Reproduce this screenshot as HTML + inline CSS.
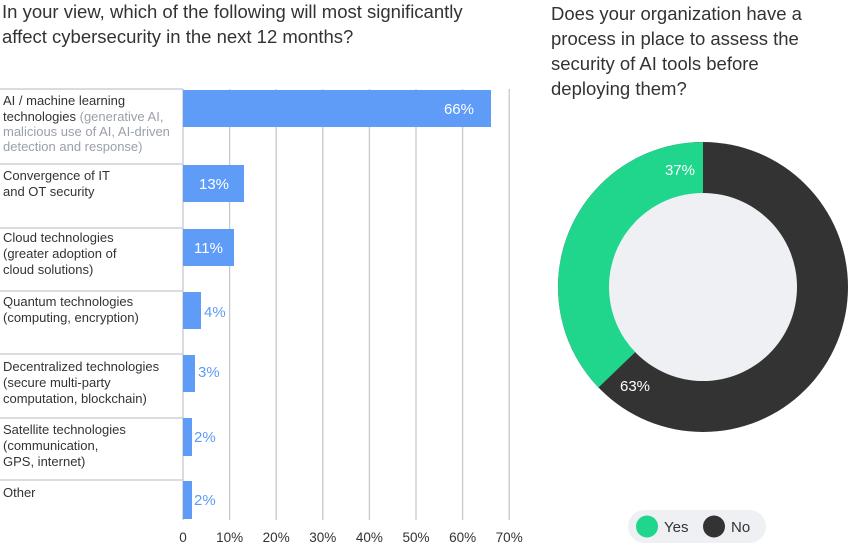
<!DOCTYPE html>
<html><head><meta charset="utf-8"><style>
body{margin:0;background:#fff;width:850px;height:548px;overflow:hidden;font-family:"Liberation Sans",sans-serif;color:#333}
</style></head><body>
<svg width="850" height="548" xmlns="http://www.w3.org/2000/svg" font-family="Liberation Sans, sans-serif">
<g font-size="18.5" fill="#333">
<text x="2" y="18">In your view, which of the following will most significantly</text>
<text x="2" y="43">affect cybersecurity in the next 12 months?</text>
<text x="551" y="20">Does your organization have a</text>
<text x="551" y="45">process in place to assess the</text>
<text x="551" y="70">security of AI tools before</text>
<text x="551" y="95">deploying them?</text>
</g>
<g stroke="#c4c8d0" stroke-width="1.3">
<line x1="183" y1="89" x2="183" y2="520"/>
<line x1="229.6" y1="89" x2="229.6" y2="520"/>
<line x1="276.2" y1="89" x2="276.2" y2="520"/>
<line x1="322.8" y1="89" x2="322.8" y2="520"/>
<line x1="369.4" y1="89" x2="369.4" y2="520"/>
<line x1="416" y1="89" x2="416" y2="520"/>
<line x1="462.6" y1="89" x2="462.6" y2="520"/>
<line x1="509.2" y1="89" x2="509.2" y2="520"/>
<line x1="0" y1="89" x2="183" y2="89"/>
<line x1="0" y1="164" x2="183" y2="164"/>
<line x1="0" y1="228" x2="183" y2="228"/>
<line x1="0" y1="291" x2="183" y2="291"/>
<line x1="0" y1="354" x2="183" y2="354"/>
<line x1="0" y1="418" x2="183" y2="418"/>
<line x1="0" y1="480" x2="183" y2="480"/>
</g>
<g fill="#5e9cf8">
<rect x="183" y="90" width="308" height="37"/>
<rect x="183" y="165" width="61" height="37"/>
<rect x="183" y="229" width="51" height="37"/>
<rect x="183" y="292" width="18" height="37"/>
<rect x="183" y="355" width="12" height="37"/>
<rect x="183" y="418" width="9" height="38"/>
<rect x="183" y="481" width="9" height="38"/>
</g>
<g font-size="15" fill="#fff">
<text x="474" y="114" text-anchor="end">66%</text>
<text x="199" y="189">13%</text>
<text x="194" y="253">11%</text>
</g>
<g font-size="15" fill="#5e9cf8">
<text x="204" y="317">4%</text>
<text x="198" y="377">3%</text>
<text x="194" y="442">2%</text>
<text x="194" y="505">2%</text>
</g>
<g font-size="13" fill="#333">
<text x="3" y="105">AI / machine learning</text>
<text x="3" y="121">technologies <tspan fill="#9aa0aa">(generative AI,</tspan></text>
<text x="3" y="136" fill="#9aa0aa">malicious use of AI, AI-driven</text>
<text x="3" y="151" fill="#9aa0aa">detection and response)</text>
<text x="3" y="180">Convergence of IT</text>
<text x="3" y="196">and OT security</text>
<text x="3" y="242">Cloud technologies</text>
<text x="3" y="258">(greater adoption of</text>
<text x="3" y="274">cloud solutions)</text>
<text x="3" y="306">Quantum technologies</text>
<text x="3" y="322">(computing, encryption)</text>
<text x="3" y="371">Decentralized technologies</text>
<text x="3" y="387">(secure multi-party</text>
<text x="3" y="403">computation, blockchain)</text>
<text x="3" y="434">Satellite technologies</text>
<text x="3" y="450">(communication,</text>
<text x="3" y="466">GPS, internet)</text>
<text x="3" y="497">Other</text>
</g>
<g font-size="13.5" fill="#333" text-anchor="middle">
<text x="183" y="542">0</text>
<text x="229.6" y="542">10%</text>
<text x="276.2" y="542">20%</text>
<text x="322.8" y="542">30%</text>
<text x="369.4" y="542">40%</text>
<text x="416" y="542">50%</text>
<text x="462.6" y="542">60%</text>
<text x="509.2" y="542">70%</text>
</g>
<circle cx="703" cy="287" r="145" fill="#333333"/>
<path d="M703 287 L703 142 A145 145 0 0 0 598.5 387.5 Z" fill="#1fd68c"/>
<circle cx="703" cy="287" r="94" fill="#eef0f3"/>
<text x="695" y="175" font-size="15" fill="#fff" text-anchor="end">37%</text>
<text x="620" y="391" font-size="15" fill="#fff">63%</text>
<rect x="628" y="510" width="138" height="33" rx="16.5" fill="#eef0f3"/>
<circle cx="647" cy="526.5" r="11" fill="#1fd68c"/>
<text x="664" y="532" font-size="15" fill="#333">Yes</text>
<circle cx="714" cy="526.5" r="11" fill="#333"/>
<text x="731" y="532" font-size="15" fill="#333">No</text>
</svg>
</body></html>
